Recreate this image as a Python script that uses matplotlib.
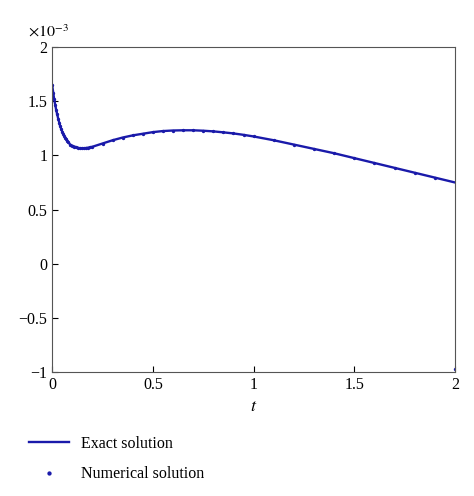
import matplotlib
matplotlib.use("Agg")
import matplotlib.pyplot as plt

plt.rcParams['font.family'] = ['Liberation Serif', 'DejaVu Serif']
plt.rcParams['mathtext.fontset'] = 'stix'

t_exact = [0, 0.01, 0.02, 0.03, 0.04, 0.05, 0.06, 0.07, 0.08, 0.09, 0.10, 0.12, 0.14, 0.16, 0.18, 0.20,
           0.25, 0.3, 0.35, 0.4, 0.45, 0.5, 0.55, 0.6, 0.65, 0.7, 0.75, 0.8, 0.85, 0.9, 0.95, 1.0,
           1.1, 1.2, 1.3, 1.4, 1.5, 1.6, 1.7, 1.8, 1.9, 2.0]
y_exact = [1.65, 1.52, 1.42, 1.34, 1.27, 1.22, 1.18, 1.15, 1.12, 1.10, 1.09, 1.075, 1.065, 1.066, 1.072, 1.08,
           1.11, 1.14, 1.165, 1.185, 1.20, 1.215, 1.225, 1.23, 1.232, 1.232, 1.228, 1.222, 1.213, 1.203, 1.19, 1.175,
           1.14, 1.10, 1.06, 1.02, 0.975, 0.93, 0.885, 0.84, 0.795, 0.75]

t_num = [0, 0.005, 0.01, 0.015, 0.02, 0.025, 0.03, 0.035, 0.04, 0.045, 0.05, 0.055, 0.06, 0.065, 0.07,
         0.075, 0.08, 0.09, 0.10, 0.11, 0.12, 0.13, 0.14, 0.15, 0.16, 0.17, 0.18, 0.19, 0.20,
         0.25, 0.3, 0.35, 0.4, 0.45, 0.5, 0.55, 0.6, 0.65, 0.7, 0.75, 0.8, 0.85, 0.9, 0.95, 1.0,
         1.1, 1.2, 1.3, 1.4, 1.5, 1.6, 1.7, 1.8, 1.9, 2.0]
y_num = [1.65, 1.58, 1.52, 1.47, 1.42, 1.38, 1.34, 1.30, 1.27, 1.245, 1.22, 1.20, 1.18, 1.165, 1.15,
         1.135, 1.12, 1.10, 1.09, 1.08, 1.075, 1.07, 1.065, 1.065, 1.066, 1.068, 1.072, 1.076, 1.08,
         1.11, 1.14, 1.165, 1.185, 1.20, 1.215, 1.225, 1.23, 1.232, 1.232, 1.228, 1.222, 1.213, 1.203, 1.19, 1.175,
         1.14, 1.10, 1.06, 1.02, 0.975, 0.93, 0.885, 0.84, 0.795, -0.97]

fig = plt.figure(figsize=(4.74, 4.96), dpi=100)
ax = fig.add_axes([0.110, 0.25, 0.850, 0.655])
color = '#1a1aaa'
l1, = ax.plot(t_exact, y_exact, color=color, lw=1.7, label='Exact solution')
l2, = ax.plot(t_num, y_num, ls='none', marker='o', ms=1.4, color=color, label='Numerical solution')
ax.set_xlim(0, 2)
ax.set_ylim(-1, 2)
ax.set_xticks([0, 0.5, 1, 1.5, 2])
ax.set_xticklabels(['0', '0.5', '1', '1.5', '2'])
ax.set_yticks([-1, -0.5, 0, 0.5, 1, 1.5, 2])
ax.set_yticklabels(['−1', '−0.5', '0', '0.5', '1', '1.5', '2'])
ax.tick_params(direction='in', labelsize=11.5, length=4, width=0.8)
for s in ax.spines.values():
    s.set_color('#555555')
ax.set_xlabel('$t$', fontsize=13, labelpad=4)
ax.text(-0.01, 1.02, r'$\times10^{-3}$', transform=ax.transAxes, fontsize=11.5, ha='center', va='bottom')
fig.legend(handles=[l1, l2], loc='upper left', bbox_to_anchor=(0.03, 0.15), frameon=False,
           fontsize=11.5, handlelength=2.5, labelspacing=0.9, markerscale=1.5)
fig.savefig('out.png', dpi=100)
